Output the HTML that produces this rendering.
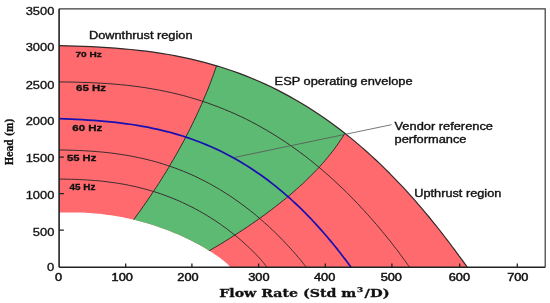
<!DOCTYPE html>
<html><head><meta charset="utf-8"><style>
html,body{margin:0;padding:0;background:#fff;}
body{width:550px;height:303px;overflow:hidden;}
svg{display:block;filter:blur(0.25px);}
text{font-family:"Liberation Sans",Arial,sans-serif;fill:#111;stroke:#111;stroke-width:0.3px;}
.lab{font-size:10.2px;stroke-width:0.35px;}
.ax{stroke-width:0.45px;}
.serif{font-family:"DejaVu Serif","Liberation Serif",serif;}
</style></head><body>
<svg width="550" height="303" viewBox="0 0 550 303">
<defs><clipPath id="band"><path d="M59.0,45.6L67.2,45.8L75.4,46.1L83.5,46.4L91.6,46.7L99.6,47.1L107.5,47.6L115.3,48.2L123.1,48.8L130.8,49.5L138.5,50.3L146.1,51.2L153.6,52.2L161.1,53.3L168.5,54.5L175.8,55.9L183.0,57.3L190.2,58.9L197.3,60.6L204.4,62.4L211.4,64.3L218.3,66.3L225.1,68.5L231.9,70.7L238.6,73.1L245.2,75.6L251.7,78.3L258.2,81.0L264.6,83.9L270.9,86.8L277.2,89.9L283.3,93.1L289.4,96.4L295.4,99.8L301.4,103.2L307.2,106.8L313.0,110.5L318.7,114.2L324.3,118.1L329.9,122.0L335.3,126.0L340.7,130.1L346.0,134.2L351.2,138.4L356.3,142.6L361.3,146.9L366.3,151.2L371.1,155.6L375.9,160.0L380.6,164.4L385.1,168.9L389.6,173.3L394.0,177.8L398.3,182.3L402.5,186.7L406.6,191.1L410.6,195.6L414.5,199.9L418.3,204.3L422.0,208.6L425.5,212.8L429.0,217.0L432.3,221.1L435.6,225.1L438.7,229.0L441.7,232.8L444.5,236.5L447.3,240.1L449.9,243.5L452.3,246.8L454.7,249.9L456.8,252.8L458.8,255.6L460.7,258.1L462.4,260.4L463.8,262.4L465.1,264.2L466.2,265.6L466.9,266.7L467.3,267.2L230.3,267.2L230.1,266.9L229.8,266.5L229.4,266.0L228.9,265.4L228.2,264.8L227.5,264.1L226.8,263.4L225.9,262.6L225.0,261.9L224.0,261.1L223.0,260.2L221.9,259.4L220.8,258.5L219.6,257.6L218.3,256.7L217.0,255.8L215.6,254.9L214.2,253.9L212.8,253.0L211.3,252.0L209.7,251.0L208.1,250.0L206.5,249.1L204.8,248.1L203.1,247.1L201.4,246.1L199.6,245.1L197.7,244.0L195.8,243.0L193.9,242.0L192.0,241.0L190.0,240.0L187.9,239.0L185.8,238.0L183.7,237.0L181.6,236.1L179.4,235.1L177.2,234.1L174.9,233.2L172.6,232.2L170.3,231.3L168.0,230.3L165.6,229.4L163.1,228.5L160.7,227.7L158.2,226.8L155.7,225.9L153.1,225.1L150.5,224.3L147.9,223.5L145.3,222.7L142.6,222.0L139.9,221.2L137.1,220.5L134.3,219.8L131.5,219.2L128.7,218.5L125.8,217.9L122.9,217.3L120.0,216.8L117.0,216.2L114.1,215.8L111.0,215.3L108.0,214.9L104.9,214.5L101.8,214.1L98.7,213.7L95.5,213.4L92.4,213.2L89.1,213.0L85.9,212.8L82.6,212.6L79.3,212.5L76.0,212.4L72.7,212.4L69.3,212.4L65.9,212.4L62.5,212.5L59.0,212.6Z"/></clipPath></defs>
<path d="M59.0,45.6L67.2,45.8L75.4,46.1L83.5,46.4L91.6,46.7L99.6,47.1L107.5,47.6L115.3,48.2L123.1,48.8L130.8,49.5L138.5,50.3L146.1,51.2L153.6,52.2L161.1,53.3L168.5,54.5L175.8,55.9L183.0,57.3L190.2,58.9L197.3,60.6L204.4,62.4L211.4,64.3L218.3,66.3L225.1,68.5L231.9,70.7L238.6,73.1L245.2,75.6L251.7,78.3L258.2,81.0L264.6,83.9L270.9,86.8L277.2,89.9L283.3,93.1L289.4,96.4L295.4,99.8L301.4,103.2L307.2,106.8L313.0,110.5L318.7,114.2L324.3,118.1L329.9,122.0L335.3,126.0L340.7,130.1L346.0,134.2L351.2,138.4L356.3,142.6L361.3,146.9L366.3,151.2L371.1,155.6L375.9,160.0L380.6,164.4L385.1,168.9L389.6,173.3L394.0,177.8L398.3,182.3L402.5,186.7L406.6,191.1L410.6,195.6L414.5,199.9L418.3,204.3L422.0,208.6L425.5,212.8L429.0,217.0L432.3,221.1L435.6,225.1L438.7,229.0L441.7,232.8L444.5,236.5L447.3,240.1L449.9,243.5L452.3,246.8L454.7,249.9L456.8,252.8L458.8,255.6L460.7,258.1L462.4,260.4L463.8,262.4L465.1,264.2L466.2,265.6L466.9,266.7L467.3,267.2L230.3,267.2L230.1,266.9L229.8,266.5L229.4,266.0L228.9,265.4L228.2,264.8L227.5,264.1L226.8,263.4L225.9,262.6L225.0,261.9L224.0,261.1L223.0,260.2L221.9,259.4L220.8,258.5L219.6,257.6L218.3,256.7L217.0,255.8L215.6,254.9L214.2,253.9L212.8,253.0L211.3,252.0L209.7,251.0L208.1,250.0L206.5,249.1L204.8,248.1L203.1,247.1L201.4,246.1L199.6,245.1L197.7,244.0L195.8,243.0L193.9,242.0L192.0,241.0L190.0,240.0L187.9,239.0L185.8,238.0L183.7,237.0L181.6,236.1L179.4,235.1L177.2,234.1L174.9,233.2L172.6,232.2L170.3,231.3L168.0,230.3L165.6,229.4L163.1,228.5L160.7,227.7L158.2,226.8L155.7,225.9L153.1,225.1L150.5,224.3L147.9,223.5L145.3,222.7L142.6,222.0L139.9,221.2L137.1,220.5L134.3,219.8L131.5,219.2L128.7,218.5L125.8,217.9L122.9,217.3L120.0,216.8L117.0,216.2L114.1,215.8L111.0,215.3L108.0,214.9L104.9,214.5L101.8,214.1L98.7,213.7L95.5,213.4L92.4,213.2L89.1,213.0L85.9,212.8L82.6,212.6L79.3,212.5L76.0,212.4L72.7,212.4L69.3,212.4L65.9,212.4L62.5,212.5L59.0,212.6Z" fill="#FF6A6E"/>
<path d="M100.2,262.0L103.5,258.1L106.7,254.1L110.0,250.2L113.2,246.3L116.3,242.3L119.4,238.4L122.5,234.5L125.5,230.5L128.5,226.6L131.5,222.7L134.4,218.7L137.2,214.8L140.1,210.9L142.9,206.9L145.6,203.0L148.3,199.1L151.0,195.2L153.6,191.2L156.2,187.3L158.8,183.4L161.3,179.4L163.7,175.5L166.2,171.6L168.6,167.6L170.9,163.7L173.2,159.8L175.5,155.8L177.7,151.9L179.9,148.0L182.1,144.0L184.2,140.1L186.2,136.2L188.3,132.2L190.3,128.3L192.2,124.4L194.1,120.4L196.0,116.5L197.8,112.6L199.6,108.6L201.4,104.7L203.1,100.8L204.7,96.8L206.4,92.9L208.0,89.0L209.5,85.1L211.0,81.1L212.5,77.2L213.9,73.3L215.3,69.3L216.7,65.4L218.0,61.5L219.2,57.5L220.5,53.6L221.7,49.7L222.8,45.7L223.9,41.8L225.0,37.9L226.0,33.9L227.0,30.0L400.0,30.0L400.0,100.0L359.7,100.0L358.8,102.9L357.9,105.8L356.8,108.6L355.7,111.5L354.6,114.4L353.3,117.3L352.0,120.2L350.6,123.1L349.1,125.9L347.5,128.8L345.8,131.7L344.1,134.6L342.3,137.5L340.4,140.3L338.5,143.2L336.4,146.1L334.3,149.0L332.1,151.9L329.8,154.7L327.5,157.6L325.1,160.5L322.5,163.4L320.0,166.3L317.3,169.2L314.5,172.0L311.7,174.9L308.8,177.8L305.8,180.7L302.8,183.6L299.6,186.4L296.4,189.3L293.1,192.2L289.8,195.1L286.3,198.0L282.8,200.8L279.2,203.7L275.5,206.6L271.7,209.5L267.9,212.4L264.0,215.3L260.0,218.1L255.9,221.0L251.7,223.9L247.5,226.8L243.2,229.7L238.8,232.5L234.3,235.4L229.8,238.3L225.2,241.2L220.5,244.1L215.7,246.9L210.8,249.8L205.9,252.7L200.9,255.6L195.8,258.5L190.6,261.4L185.4,264.2L180.0,267.1L174.6,270.0L100.0,270.0Z" fill="#5DBA73" clip-path="url(#band)"/>
<g clip-path="url(#band)" fill="none" stroke="#33282a" stroke-width="0.95">
<path d="M227.0,30.0L226.0,33.9L225.0,37.9L223.9,41.8L222.8,45.7L221.7,49.7L220.5,53.6L219.2,57.5L218.0,61.5L216.7,65.4L215.3,69.3L213.9,73.3L212.5,77.2L211.0,81.1L209.5,85.1L208.0,89.0L206.4,92.9L204.7,96.8L203.1,100.8L201.4,104.7L199.6,108.6L197.8,112.6L196.0,116.5L194.1,120.4L192.2,124.4L190.3,128.3L188.3,132.2L186.2,136.2L184.2,140.1L182.1,144.0L179.9,148.0L177.7,151.9L175.5,155.8L173.2,159.8L170.9,163.7L168.6,167.6L166.2,171.6L163.7,175.5L161.3,179.4L158.8,183.4L156.2,187.3L153.6,191.2L151.0,195.2L148.3,199.1L145.6,203.0L142.9,206.9L140.1,210.9L137.2,214.8L134.4,218.7L131.5,222.7L128.5,226.6L125.5,230.5L122.5,234.5L119.4,238.4L116.3,242.3L113.2,246.3L110.0,250.2L106.7,254.1L103.5,258.1L100.2,262.0"/><path d="M359.7,100.0L358.8,102.9L357.9,105.8L356.8,108.6L355.7,111.5L354.6,114.4L353.3,117.3L352.0,120.2L350.6,123.1L349.1,125.9L347.5,128.8L345.8,131.7L344.1,134.6L342.3,137.5L340.4,140.3L338.5,143.2L336.4,146.1L334.3,149.0L332.1,151.9L329.8,154.7L327.5,157.6L325.1,160.5L322.5,163.4L320.0,166.3L317.3,169.2L314.5,172.0L311.7,174.9L308.8,177.8L305.8,180.7L302.8,183.6L299.6,186.4L296.4,189.3L293.1,192.2L289.8,195.1L286.3,198.0L282.8,200.8L279.2,203.7L275.5,206.6L271.7,209.5L267.9,212.4L264.0,215.3L260.0,218.1L255.9,221.0L251.7,223.9L247.5,226.8L243.2,229.7L238.8,232.5L234.3,235.4L229.8,238.3L225.2,241.2L220.5,244.1L215.7,246.9L210.8,249.8L205.9,252.7L200.9,255.6L195.8,258.5L190.6,261.4L185.4,264.2L180.0,267.1L174.6,270.0"/></g>
<g fill="none" stroke="#33282a" stroke-width="0.95" stroke-linejoin="round">
<path d="M59.0,81.9L66.1,82.0L73.1,82.1L80.1,82.3L87.0,82.5L93.8,82.8L100.6,83.2L107.4,83.6L114.0,84.1L120.7,84.7L127.2,85.3L133.8,86.1L140.2,87.0L146.6,87.9L153.0,89.0L159.3,90.1L165.5,91.4L171.6,92.7L177.8,94.2L183.8,95.7L189.8,97.4L195.7,99.1L201.6,101.0L207.4,102.9L213.1,105.0L218.8,107.1L224.4,109.4L230.0,111.7L235.5,114.1L240.9,116.6L246.3,119.2L251.6,121.9L256.8,124.7L262.0,127.6L267.1,130.5L272.1,133.5L277.1,136.6L281.9,139.7L286.8,142.9L291.5,146.2L296.2,149.5L300.8,152.9L305.4,156.3L309.8,159.8L314.2,163.3L318.5,166.9L322.8,170.5L326.9,174.1L331.0,177.7L335.0,181.4L339.0,185.1L342.8,188.7L346.6,192.4L350.3,196.1L353.9,199.8L357.4,203.4L360.8,207.1L364.2,210.7L367.4,214.3L370.6,217.8L373.6,221.3L376.6,224.7L379.5,228.1L382.3,231.5L384.9,234.7L387.5,237.9L390.0,240.9L392.3,243.9L394.5,246.8L396.7,249.5L398.7,252.2L400.5,254.7L402.2,257.0L403.8,259.2L405.3,261.1L406.5,262.9L407.6,264.5L408.5,265.8L409.2,266.7L409.5,267.2"/>
<path d="M59.0,149.9L64.0,150.0L68.9,150.2L73.8,150.3L78.7,150.5L83.6,150.7L88.3,151.0L93.1,151.3L97.8,151.7L102.5,152.1L107.1,152.6L111.7,153.1L116.3,153.7L120.8,154.4L125.3,155.1L129.7,155.8L134.1,156.7L138.4,157.6L142.8,158.5L147.0,159.5L151.2,160.6L155.4,161.7L159.6,162.9L163.7,164.2L167.7,165.5L171.7,166.9L175.7,168.3L179.6,169.8L183.5,171.3L187.3,172.9L191.1,174.5L194.8,176.2L198.5,178.0L202.1,179.8L205.7,181.6L209.3,183.5L212.8,185.5L216.2,187.4L219.6,189.4L223.0,191.5L226.3,193.6L229.6,195.7L232.8,197.8L235.9,200.0L239.0,202.2L242.0,204.4L245.0,206.6L248.0,208.9L250.9,211.2L253.7,213.4L256.5,215.7L259.2,218.0L261.8,220.3L264.4,222.6L267.0,224.9L269.5,227.2L271.9,229.4L274.2,231.7L276.5,233.9L278.8,236.1L280.9,238.3L283.0,240.5L285.0,242.6L287.0,244.7L288.9,246.7L290.7,248.7L292.4,250.6L294.1,252.5L295.7,254.3L297.1,256.0L298.6,257.7L299.9,259.2L301.1,260.7L302.2,262.1L303.2,263.3L304.1,264.5L304.9,265.4L305.5,266.3L306.0,266.9L306.2,267.2"/>
<path d="M59.0,179.1L63.2,179.1L67.4,179.2L71.5,179.3L75.6,179.4L79.6,179.6L83.7,179.8L87.7,180.0L91.6,180.3L95.6,180.6L99.5,180.9L103.3,181.3L107.2,181.8L111.0,182.3L114.7,182.8L118.5,183.4L122.2,184.0L125.8,184.6L129.4,185.4L133.0,186.1L136.6,186.9L140.1,187.8L143.6,188.7L147.0,189.6L150.4,190.6L153.8,191.6L157.1,192.6L160.4,193.7L163.7,194.9L166.9,196.1L170.1,197.3L173.2,198.5L176.3,199.8L179.4,201.1L182.4,202.5L185.4,203.9L188.3,205.3L191.2,206.8L194.1,208.2L196.9,209.7L199.7,211.3L202.4,212.8L205.1,214.4L207.8,216.0L210.4,217.6L212.9,219.2L215.5,220.9L217.9,222.5L220.4,224.2L222.7,225.9L225.1,227.6L227.4,229.3L229.6,231.0L231.8,232.7L233.9,234.4L236.0,236.0L238.0,237.7L240.0,239.4L241.9,241.1L243.8,242.7L245.6,244.4L247.4,246.0L249.1,247.6L250.7,249.2L252.3,250.7L253.9,252.2L255.3,253.7L256.7,255.2L258.0,256.6L259.3,257.9L260.5,259.2L261.6,260.5L262.6,261.7L263.5,262.8L264.4,263.8L265.1,264.8L265.8,265.6L266.3,266.3L266.7,266.9L266.9,267.2"/>
<path d="M59.0,45.6L67.2,45.8L75.4,46.1L83.5,46.4L91.6,46.7L99.6,47.1L107.5,47.6L115.3,48.2L123.1,48.8L130.8,49.5L138.5,50.3L146.1,51.2L153.6,52.2L161.1,53.3L168.5,54.5L175.8,55.9L183.0,57.3L190.2,58.9L197.3,60.6L204.4,62.4L211.4,64.3L218.3,66.3L225.1,68.5L231.9,70.7L238.6,73.1L245.2,75.6L251.7,78.3L258.2,81.0L264.6,83.9L270.9,86.8L277.2,89.9L283.3,93.1L289.4,96.4L295.4,99.8L301.4,103.2L307.2,106.8L313.0,110.5L318.7,114.2L324.3,118.1L329.9,122.0L335.3,126.0L340.7,130.1L346.0,134.2L351.2,138.4L356.3,142.6L361.3,146.9L366.3,151.2L371.1,155.6L375.9,160.0L380.6,164.4L385.1,168.9L389.6,173.3L394.0,177.8L398.3,182.3L402.5,186.7L406.6,191.1L410.6,195.6L414.5,199.9L418.3,204.3L422.0,208.6L425.5,212.8L429.0,217.0L432.3,221.1L435.6,225.1L438.7,229.0L441.7,232.8L444.5,236.5L447.3,240.1L449.9,243.5L452.3,246.8L454.7,249.9L456.8,252.8L458.8,255.6L460.7,258.1L462.4,260.4L463.8,262.4L465.1,264.2L466.2,265.6L466.9,266.7L467.3,267.2" stroke-width="1.2"/>
</g>
<path d="M59.0,118.6L64.9,118.8L70.7,119.1L76.5,119.4L82.3,119.7L88.0,120.1L93.7,120.4L99.3,120.9L104.9,121.3L110.4,121.9L115.9,122.4L121.3,123.1L126.7,123.8L132.0,124.5L137.3,125.4L142.5,126.3L147.7,127.2L152.8,128.3L157.9,129.4L163.0,130.6L168.0,131.8L172.9,133.1L177.8,134.6L182.6,136.0L187.4,137.6L192.1,139.2L196.8,141.0L201.5,142.7L206.0,144.6L210.5,146.5L215.0,148.5L219.4,150.6L223.8,152.8L228.1,155.0L232.3,157.2L236.5,159.6L240.7,162.0L244.7,164.4L248.8,167.0L252.7,169.5L256.6,172.2L260.5,174.8L264.2,177.5L268.0,180.3L271.6,183.1L275.2,185.9L278.8,188.8L282.2,191.7L285.6,194.6L289.0,197.5L292.2,200.5L295.5,203.5L298.6,206.4L301.7,209.4L304.7,212.4L307.6,215.4L310.5,218.3L313.2,221.3L315.9,224.2L318.6,227.1L321.1,229.9L323.6,232.7L326.0,235.5L328.3,238.2L330.5,240.9L332.7,243.5L334.7,246.0L336.7,248.4L338.5,250.8L340.3,253.0L342.0,255.2L343.5,257.2L345.0,259.1L346.3,260.8L347.5,262.4L348.5,263.8L349.4,265.1L350.2,266.1L350.7,266.8L351.0,267.2" fill="none" stroke="#1810b0" stroke-width="1.7"/>
<line x1="234.7" y1="157.4" x2="391.5" y2="124.7" stroke="#555" stroke-width="0.8"/>
<path d="M59.1,8.8H545.2V267.2" fill="none" stroke="#3a3a3a" stroke-width="1.2"/>
<path d="M59.1,267.2H545.2M59.1,8.8V267.2" fill="none" stroke="#222" stroke-width="1.6"/>
<path d="M125.7,267.2v-3.8M191.9,267.2v-3.8M258.6,267.2v-3.8M325.3,267.2v-3.8M391.9,267.2v-3.8M459.7,267.2v-3.8M517.3,267.2v-3.8M59.1,230.1h4.8M59.1,193.6h4.8M59.1,157.2h4.8" stroke="#222" stroke-width="1.3"/>
<text x="54.3" y="14.7" font-size="10" text-anchor="end" textLength="28.6" lengthAdjust="spacingAndGlyphs">3500</text>
<text x="54.3" y="51.4" font-size="10" text-anchor="end" textLength="28.6" lengthAdjust="spacingAndGlyphs">3000</text>
<text x="54.3" y="88.7" font-size="10" text-anchor="end" textLength="28.6" lengthAdjust="spacingAndGlyphs">2500</text>
<text x="54.3" y="125" font-size="10" text-anchor="end" textLength="28.6" lengthAdjust="spacingAndGlyphs">2000</text>
<text x="54.3" y="162" font-size="10" text-anchor="end" textLength="28.6" lengthAdjust="spacingAndGlyphs">1500</text>
<text x="54.3" y="198.9" font-size="10" text-anchor="end" textLength="28.6" lengthAdjust="spacingAndGlyphs">1000</text>
<text x="54.3" y="235.5" font-size="10" text-anchor="end" textLength="21.5" lengthAdjust="spacingAndGlyphs">500</text>
<text x="54.3" y="270.8" font-size="10" text-anchor="end" textLength="7.2" lengthAdjust="spacingAndGlyphs">0</text>
<text class="ax" x="58.6" y="280.9" font-size="10.2" text-anchor="middle" textLength="7.1" lengthAdjust="spacingAndGlyphs">0</text>
<text class="ax" x="122.2" y="280.9" font-size="10.2" text-anchor="middle" textLength="21.3" lengthAdjust="spacingAndGlyphs">100</text>
<text class="ax" x="188" y="280.9" font-size="10.2" text-anchor="middle" textLength="21.3" lengthAdjust="spacingAndGlyphs">200</text>
<text class="ax" x="258.9" y="280.9" font-size="10.2" text-anchor="middle" textLength="21.3" lengthAdjust="spacingAndGlyphs">300</text>
<text class="ax" x="324.6" y="280.9" font-size="10.2" text-anchor="middle" textLength="21.3" lengthAdjust="spacingAndGlyphs">400</text>
<text class="ax" x="391.3" y="280.9" font-size="10.2" text-anchor="middle" textLength="21.3" lengthAdjust="spacingAndGlyphs">500</text>
<text class="ax" x="459.4" y="280.9" font-size="10.2" text-anchor="middle" textLength="21.3" lengthAdjust="spacingAndGlyphs">600</text>
<text class="ax" x="517.8" y="280.9" font-size="10.2" text-anchor="middle" textLength="21.3" lengthAdjust="spacingAndGlyphs">700</text>
<text x="0" y="0" class="serif" font-weight="bold" font-size="10.5" text-anchor="middle" transform="translate(12.9,141.8) rotate(-90)" textLength="47" lengthAdjust="spacingAndGlyphs">Head (m)</text>
<text x="219.2" y="297.4" class="serif" font-weight="bold" font-size="11.6" textLength="137.2" lengthAdjust="spacingAndGlyphs">Flow Rate (Std m</text>
<text x="357.0" y="292.0" class="serif" font-weight="bold" font-size="6.6" textLength="6.2" lengthAdjust="spacingAndGlyphs">3</text>
<text x="364.6" y="297.4" class="serif" font-weight="bold" font-size="11.6" textLength="25" lengthAdjust="spacingAndGlyphs">/D)</text>
<text class="lab" x="89" y="39.2" font-size="10.5" textLength="103.5" lengthAdjust="spacingAndGlyphs">Downthrust region</text>
<text class="lab" x="274.6" y="85" font-size="10.5" textLength="138" lengthAdjust="spacingAndGlyphs">ESP operating envelope</text>
<text class="lab" x="394.5" y="130.3" font-size="10.5" textLength="98.5" lengthAdjust="spacingAndGlyphs">Vendor reference</text>
<text class="lab" x="394.5" y="142.7" font-size="10.5" textLength="72" lengthAdjust="spacingAndGlyphs">performance</text>
<text class="lab" x="414.3" y="197" font-size="10.5" textLength="87" lengthAdjust="spacingAndGlyphs">Upthrust region</text>
<text x="75.5" y="57.4" font-size="7.8" font-weight="bold" textLength="26.3" lengthAdjust="spacingAndGlyphs">70 Hz</text>
<text x="76" y="91.3" font-size="8.6" font-weight="bold" textLength="30" lengthAdjust="spacingAndGlyphs">65 Hz</text>
<text x="72.3" y="130.5" font-size="8.8" font-weight="bold" textLength="30" lengthAdjust="spacingAndGlyphs">60 Hz</text>
<text x="67" y="160.8" font-size="8.3" font-weight="bold" textLength="29.3" lengthAdjust="spacingAndGlyphs">55 Hz</text>
<text x="69.6" y="190.1" font-size="8.4" font-weight="bold" textLength="25.8" lengthAdjust="spacingAndGlyphs">45 Hz</text>
</svg>
</body></html>
